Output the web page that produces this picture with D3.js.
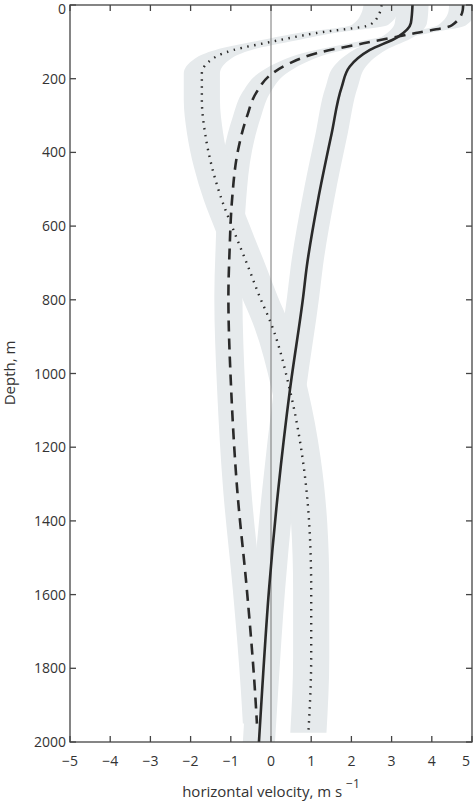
<!DOCTYPE html>
<html><head><meta charset="utf-8">
<script src="https://cdn.jsdelivr.net/npm/d3@7"></script>
<style>body{margin:0;background:#fff}text{font-family:"Open Sans",sans-serif;fill:#333}</style>
</head><body><svg id="c" width="474" height="803"></svg>
<script>
const xTicks=[-5,-4,-3,-2,-1,0,1,2,3,4,5];
const yTicks=[0,200,400,600,800,1000,1200,1400,1600,1800,2000];
const solidDepth=[0,49,87,122,167,222,348,529,710,792,1045,1316,1587,1859,2000];
const solidVel=[3.52,3.48,3.15,2.46,1.96,1.76,1.51,1.17,0.89,0.8,0.47,0.18,-0.05,-0.22,-0.3];
const dashDepth=[0,14,55,76,104,131,158,186,235,303,394,530,665,792,1045,1316,1587,1859,1950];
const dashVel=[4.78,4.77,4.5,3.6,2.3,1.13,0.47,0.03,-0.35,-0.6,-0.82,-0.97,-1.03,-1.06,-0.99,-0.84,-0.6,-0.4,-0.35];
const dotDepth=[0,22,54,76,100,122,145,186,258,348,439,530,620,710,792,864,1045,1226,1407,1587,1769,1975];
const dotVel=[2.75,2.7,2.46,1.13,0,-0.93,-1.44,-1.72,-1.72,-1.64,-1.47,-1.22,-0.9,-0.57,-0.28,0,0.47,0.78,0.95,1.0,1.0,0.93];
const bandHalf={solid:0.4,dash:0.35,dot:0.45};

const svg=d3.select("#c");
const L=70,R=472,T=5,B=742;
const x=d3.scaleLinear().domain([-5,5]).range([L,R]);
const y=d3.scaleLinear().domain([0,2000]).range([T,B]);
const series=[
 {d:solidDepth,v:solidVel,h:bandHalf.solid,dash:null,w:2.6},
 {d:dashDepth,v:dashVel,h:bandHalf.dash,dash:"11,7",w:2.6},
 {d:dotDepth,v:dotVel,h:bandHalf.dot,dash:"1.5,5.5",w:2.4}];
const g=svg.append("g");
svg.append("clipPath").attr("id","cl").append("rect").attr("x",L).attr("y",T).attr("width",R-L).attr("height",B-T);
const area=d3.area().curve(d3.curveMonotoneY).y(p=>y(p[0])).x0(p=>x(p[1]-p[2])).x1(p=>x(p[1]+p[2]));
series.forEach(s=>{
 const pts=s.d.map((d,i)=>[d,s.v[i],s.h]);
 g.append("path").attr("d",area(pts)).attr("fill","#e6eaec").attr("clip-path","url(#cl)");
});
g.append("line").attr("x1",x(0)).attr("x2",x(0)).attr("y1",T).attr("y2",B).attr("stroke","#777").attr("stroke-width",1);
const line=d3.line().curve(d3.curveMonotoneY).y(p=>y(p[0])).x(p=>x(p[1]));
series.forEach(s=>{
 const pts=s.d.map((d,i)=>[d,s.v[i]]);
 g.append("path").attr("d",line(pts)).attr("fill","none").attr("stroke","#2a2a2a")
  .attr("stroke-width",s.w).attr("stroke-dasharray",s.dash).attr("clip-path","url(#cl)");
});
const ax=svg.append("g").attr("stroke","#444").attr("stroke-width",1.3);
ax.append("rect").attr("x",L).attr("y",T).attr("width",R-L).attr("height",B-T).attr("fill","none");
xTicks.forEach(t=>{
 ax.append("line").attr("x1",x(t)).attr("x2",x(t)).attr("y1",B).attr("y2",B-6);
 ax.append("line").attr("x1",x(t)).attr("x2",x(t)).attr("y1",T).attr("y2",T+6);
 svg.append("text").attr("x",Math.min(x(t),466)).attr("y",B+24).attr("text-anchor","middle").attr("font-size",14).text(t<0?"\u2212"+(-t):t);
});
yTicks.forEach(t=>{
 ax.append("line").attr("x1",L).attr("x2",L+6).attr("y1",y(t)).attr("y2",y(t));
 ax.append("line").attr("x1",R).attr("x2",R-6).attr("y1",y(t)).attr("y2",y(t));
 svg.append("text").attr("x",L-4).attr("y",Math.max(y(t)+5,14)).attr("text-anchor","end").attr("font-size",14).text(t);
});
const xl=svg.append("text").attr("x",271).attr("y",797).attr("text-anchor","middle").attr("font-size",15);
xl.append("tspan").text("horizontal velocity, m s ");
xl.append("tspan").attr("dy",-9).attr("font-size",12).text("\u22121");
svg.append("text").attr("transform","translate(15,373) rotate(-90)").attr("text-anchor","middle").attr("font-size",15).text("Depth, m");
</script></body></html>
